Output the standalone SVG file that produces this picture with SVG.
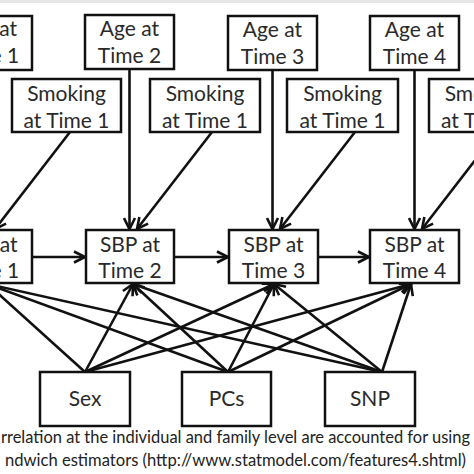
<svg xmlns="http://www.w3.org/2000/svg" width="474" height="474" viewBox="0 0 474 474">
  <defs>
    <marker id="arr" markerUnits="userSpaceOnUse" markerWidth="16" markerHeight="14" viewBox="-13 -7 16 14" refX="0" refY="0" orient="auto">
      <path d="M-11,-5.5 L0,0 L-11,5.5" fill="none" stroke="#111" stroke-width="2.6" stroke-linejoin="miter"/>
    </marker>
  </defs>
  <style>
    .box { fill: #fff; stroke: #111; stroke-width: 2.5; }
    .t { font-family: Lato, "Liberation Sans", sans-serif; font-size: 21px; fill: #2a2a2a; text-anchor: middle; }
    .cap { font-family: Lato, "Liberation Sans", sans-serif; font-size: 17.5px; fill: #222; }
    .c { stroke: #111; stroke-width: 2.6; fill: none; marker-end: url(#arr); }
  </style>
  <rect x="0" y="0" width="474" height="3" fill="#e6e6e6"/>

  <g id="connectors">
    <line class="c" x1="-12.5" y1="70" x2="-12.5" y2="229"/>
    <line class="c" x1="129.5" y1="69" x2="129.5" y2="229"/>
    <line class="c" x1="272.5" y1="70" x2="272.5" y2="229"/>
    <line class="c" x1="414.5" y1="70" x2="414.5" y2="229"/>
    <line class="c" x1="70" y1="132" x2="-5" y2="229"/>
    <line class="c" x1="212" y1="132" x2="137" y2="229"/>
    <line class="c" x1="355" y1="132" x2="280" y2="229"/>
    <line class="c" x1="497" y1="132" x2="422" y2="229"/>
    <line class="c" x1="32" y1="257" x2="85" y2="257"/>
    <line class="c" x1="174" y1="257" x2="228" y2="257"/>
    <line class="c" x1="318" y1="257" x2="369" y2="257"/>
    <line class="c" x1="85" y1="372" x2="-12.5" y2="284"/>
    <line class="c" x1="85" y1="372" x2="133" y2="284"/>
    <line class="c" x1="85" y1="372" x2="274" y2="284"/>
    <line class="c" x1="85" y1="372" x2="411" y2="284"/>
    <line class="c" x1="228" y1="372" x2="-12.5" y2="284"/>
    <line class="c" x1="228" y1="372" x2="133" y2="284"/>
    <line class="c" x1="228" y1="372" x2="274" y2="284"/>
    <line class="c" x1="228" y1="372" x2="411" y2="284"/>
    <line class="c" x1="382" y1="372" x2="-12.5" y2="284"/>
    <line class="c" x1="382" y1="372" x2="133" y2="284"/>
    <line class="c" x1="382" y1="372" x2="274" y2="284"/>
    <line class="c" x1="382" y1="372" x2="411" y2="284"/>
  </g>

  <g id="age1"><rect class="box" x="-57" y="16" width="89" height="54"/><text class="t" x="-12.5" y="36">Age at</text><text class="t" x="-12.5" y="63">Time 1</text></g>
  <g id="age2"><rect class="box" x="85" y="15" width="89" height="54"/><text class="t" x="129.5" y="36">Age at</text><text class="t" x="129.5" y="63">Time 2</text></g>
  <g id="age3"><rect class="box" x="228" y="16" width="89" height="54"/><text class="t" x="272.5" y="37">Age at</text><text class="t" x="272.5" y="64">Time 3</text></g>
  <g id="age4"><rect class="box" x="370" y="16" width="89" height="54"/><text class="t" x="414.5" y="37">Age at</text><text class="t" x="414.5" y="64">Time 4</text></g>

  <g id="smoke1"><rect class="box" x="12" y="79" width="109" height="53"/><text class="t" x="66.5" y="101">Smoking</text><text class="t" x="66.5" y="128">at Time 1</text></g>
  <g id="smoke2"><rect class="box" x="150" y="79" width="110" height="53"/><text class="t" x="205" y="101">Smoking</text><text class="t" x="205" y="128">at Time 1</text></g>
  <g id="smoke3"><rect class="box" x="287" y="79" width="111" height="53"/><text class="t" x="342.5" y="101">Smoking</text><text class="t" x="342.5" y="128">at Time 1</text></g>
  <g id="smoke4"><rect class="box" x="429" y="79" width="110" height="53"/><text class="t" x="484" y="101">Smoking</text><text class="t" x="484" y="128">at Time 1</text></g>

  <g id="sbp1"><rect class="box" x="-57" y="230" width="89" height="53"/><text class="t" x="-12.5" y="252">SBP at</text><text class="t" x="-12.5" y="278">Time 1</text></g>
  <g id="sbp2"><rect class="box" x="86" y="230" width="88" height="53"/><text class="t" x="130" y="252">SBP at</text><text class="t" x="130" y="278">Time 2</text></g>
  <g id="sbp3"><rect class="box" x="229" y="230" width="89" height="53"/><text class="t" x="273.5" y="252">SBP at</text><text class="t" x="273.5" y="278">Time 3</text></g>
  <g id="sbp4"><rect class="box" x="370" y="230" width="89" height="53"/><text class="t" x="414.5" y="252">SBP at</text><text class="t" x="414.5" y="278">Time 4</text></g>

  <g id="sex"><rect class="box" x="40" y="372" width="90" height="54"/><text class="t" x="85" y="406">Sex</text></g>
  <g id="pcs"><rect class="box" x="182" y="372" width="89" height="54"/><text class="t" x="226.5" y="406">PCs</text></g>
  <g id="snp"><rect class="box" x="325" y="372" width="90" height="54"/><text class="t" x="370" y="406">SNP</text></g>

  <text class="cap" x="1" y="443" textLength="469" lengthAdjust="spacingAndGlyphs">rrelation at the individual and family level are accounted for using</text>
  <text class="cap" x="5" y="466" textLength="461" lengthAdjust="spacingAndGlyphs">ndwich estimators (http://www.statmodel.com/features4.shtml)</text>
</svg>
